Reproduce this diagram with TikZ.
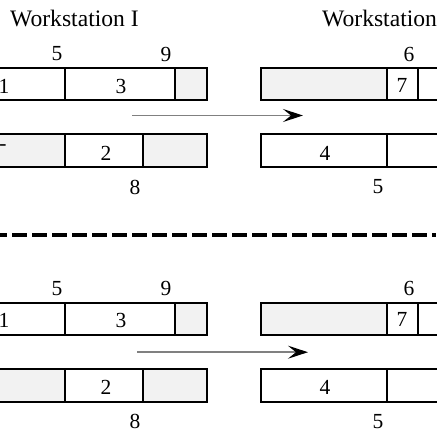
\documentclass[tikz,border=0pt]{standalone}
\usepackage{fontspec}
\setmainfont{Liberation Serif}
\usetikzlibrary{arrows.meta}
\definecolor{cellgray}{HTML}{F2F2F2}
\tikzset{
 cell/.style={draw=black, line width=2pt},
 shaded/.style={cell, fill=cellgray},
 num/.style={font=\fontsize{21.5}{21.5}\selectfont, inner sep=0pt},
 wstitle/.style={font=\fontsize{23.6}{23.6}\selectfont, inner sep=0pt, anchor=base west},
 move/.style={draw=gray, line width=1.8pt, -{Stealth[length=20pt,width=13pt,inset=8pt,black]}},
 sepline/.style={line width=3.5pt, dash pattern=on 15pt off 5pt, dash phase=8pt}
}
\begin{document}
\begin{tikzpicture}[x=1pt,y=-1pt]
\useasboundingbox (0,0) rectangle (436,436);
\node[wstitle] (tl) at (10,26.5) {Workstation I};
\node[wstitle] (tr) at (322,26.5) {Workstation II};
\coordinate (sl) at (0,235);
\coordinate (sr) at (436,235);
\draw[sepline] (sl) -- (sr);
\foreach \dy/\ax/\bx/\ay [count=\i] in {0/132/303/115.5, 234.7/137/308/117.5} {
 \begin{scope}[yshift=-\dy pt]
  % left workstation
  \draw[cell] (-5,68) rectangle (65,100);
  \draw[cell] (65,68) rectangle (175,100);
  \draw[shaded] (175,68) rectangle (207,100);
  \draw[shaded] (-5,134) rectangle (65,167);
  \draw[cell] (65,134) rectangle (143,167);
  \draw[shaded] (143,134) rectangle (207,167);
  % right workstation
  \draw[shaded] (261,68) rectangle (386.5,100);
  \draw[cell] (386.5,68) rectangle (418,100);
  \draw[cell] (418,68) rectangle (445,100);
  \draw[cell] (261,134) rectangle (386.5,167);
  \draw[cell] (386.5,134) rectangle (445,167);
  % numbers
  \node[num] (one\i) at (4,86) {1};
  \node[num] (three\i) at (121,86) {3};
  \node[num] (five\i) at (57,54) {5};
  \node[num] (nine\i) at (166,54) {9};
  \node[num] (two\i) at (106,153) {2};
  \node[num] (eight\i) at (135,187) {8};
  \node[num] (seven\i) at (402,85) {7};
  \node[num] (six\i) at (409,54) {6};
  \node[num] (four\i) at (325,153) {4};
  \node[num] (fiveb\i) at (378,187) {5};
  % arrow
  \coordinate (a\i) at (\ax,\ay);
  \coordinate (b\i) at (\bx,\ay);
  \draw[move] (a\i) -- (b\i);
 \end{scope}
}
\node[num] (dash) at (3,148) {-};
\end{tikzpicture}
\end{document}
